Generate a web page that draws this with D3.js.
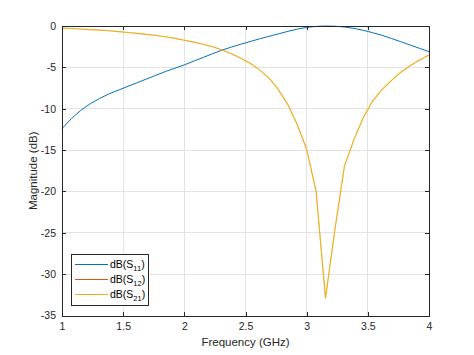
<!DOCTYPE html>
<html><head><meta charset="utf-8">
<script src="https://cdn.jsdelivr.net/npm/d3@7"></script>
<style>
html,body{margin:0;padding:0;background:#fff;}
svg{display:block;font-family:"Liberation Sans",Arial,sans-serif;}
</style></head>
<body><svg id="c" width="474" height="355"></svg>
<script>
const freq = [1.000,1.077,1.154,1.231,1.308,1.385,1.462,1.538,1.615,1.692,
              1.769,1.846,1.923,2.000,2.077,2.154,2.231,2.308,2.385,2.462,
              2.538,2.615,2.692,2.769,2.846,2.923,3.000,3.077,3.154,3.231,
              3.308,3.385,3.462,3.538,3.615,3.692,3.769,3.846,3.923,4.000];
const s11 = [-12.4,-11.2,-10.2,-9.4,-8.75,-8.2,-7.75,-7.3,-6.85,-6.4,
             -5.95,-5.5,-5.1,-4.7,-4.25,-3.8,-3.35,-2.92,-2.55,-2.2,
             -1.88,-1.55,-1.25,-0.95,-0.65,-0.38,-0.17,-0.05,-0.0,-0.03,
             -0.12,-0.28,-0.52,-0.8,-1.12,-1.5,-1.9,-2.3,-2.7,-3.1];
const s21 = [-0.25,-0.3,-0.36,-0.43,-0.5,-0.58,-0.68,-0.78,-0.89,-1.01,
             -1.15,-1.3,-1.5,-1.72,-1.95,-2.2,-2.5,-2.9,-3.35,-3.9,
             -4.5,-5.3,-6.3,-7.7,-9.5,-11.9,-14.9,-20.0,-32.9,-24.6,
             -17.0,-13.8,-11.1,-9.1,-7.7,-6.6,-5.6,-4.8,-4.1,-3.5];
const s12 = s21.slice();
const xTicks = [1,1.5,2,2.5,3,3.5,4];
const yTicks = [0,-5,-10,-15,-20,-25,-30,-35];
const seriesNames = ["11","12","21"];
const colors = ["#0072BD","#D95319","#EDB120"];

const L=62, R=429, T=26, B=315.5;
const svg = d3.select("#c");
const x = d3.scaleLinear().domain([1,4]).range([L,R]);
const y = d3.scaleLinear().domain([-35,0]).range([B,T]);
const axisCol = "#262626";

// grid
const g = svg.append("g");
g.selectAll("line.gx").data(xTicks.slice(1,-1)).enter().append("line")
  .attr("x1",d=>x(d)).attr("x2",d=>x(d)).attr("y1",T).attr("y2",B)
  .attr("stroke","#e3e3e3").attr("stroke-width",1).attr("shape-rendering","crispEdges");
g.selectAll("line.gy").data(yTicks.slice(1,-1)).enter().append("line")
  .attr("y1",d=>y(d)).attr("y2",d=>y(d)).attr("x1",L).attr("x2",R)
  .attr("stroke","#e3e3e3").attr("stroke-width",1).attr("shape-rendering","crispEdges");

// lines (S12 coincides with S21 and lies underneath it)
const line = d3.line().x((d,i)=>x(freq[i])).y(d=>y(d));
const data = [s11,s12,s21];
const widths = [1.0,0.25,1.15];
const plot = svg.append("g");
data.forEach((s,k)=>{
  plot.append("path").datum(s).attr("d",line).attr("fill","none")
    .attr("stroke",colors[k]).attr("stroke-width",widths[k]);
});

// axes
const fmt = d=>String(d).replace("\u2212","-");
const xb = svg.append("g").attr("transform",`translate(0,${B})`)
  .call(d3.axisBottom(x).tickValues(xTicks).tickSize(-4).tickPadding(7).tickFormat(fmt));
const xt = svg.append("g").attr("transform",`translate(0,${T})`)
  .call(d3.axisTop(x).tickValues(xTicks).tickSize(-4).tickFormat(""));
const yl = svg.append("g").attr("transform",`translate(${L},0)`)
  .call(d3.axisLeft(y).tickValues(yTicks).tickSize(-4).tickPadding(6).tickFormat(fmt));
const yr = svg.append("g").attr("transform",`translate(${R},0)`)
  .call(d3.axisRight(y).tickValues(yTicks).tickSize(-4).tickFormat(""));
[xb,xt,yl,yr].forEach(a=>{
  a.select(".domain").attr("stroke",axisCol).attr("shape-rendering","crispEdges");
  a.selectAll(".tick line").attr("stroke",axisCol).attr("shape-rendering","crispEdges");
  a.selectAll(".tick text").attr("fill",axisCol).attr("font-size",10.5)
    .attr("font-family","'Liberation Sans',Arial,sans-serif");
});

// axis labels
svg.append("text").attr("x",(L+R)/2).attr("y",346).attr("text-anchor","middle")
  .attr("font-size",11.5).attr("fill",axisCol).text("Frequency (GHz)");
svg.append("text").attr("transform",`translate(37,${(T+B)/2}) rotate(-90)`)
  .attr("text-anchor","middle").attr("font-size",11.5).attr("fill",axisCol).text("Magnitude (dB)");

// legend
const lg = svg.append("g");
lg.append("rect").attr("x",71.5).attr("y",254.5).attr("width",77).attr("height",51)
  .attr("fill","#fff").attr("stroke",axisCol).attr("stroke-width",1);
seriesNames.forEach((n,k)=>{
  const cy = 264.5 + k*15;
  lg.append("line").attr("x1",75).attr("x2",108).attr("y1",cy).attr("y2",cy)
    .attr("stroke",colors[k]).attr("stroke-width",1.0);
  const t = lg.append("text").attr("x",110).attr("y",cy+3.5).attr("font-size",10.5).attr("fill","#000");
  t.append("tspan").text("dB(S");
  t.append("tspan").attr("font-size",7.5).attr("dy",3).text(n);
  t.append("tspan").attr("dy",-3).text(")");
});
</script></body></html>
